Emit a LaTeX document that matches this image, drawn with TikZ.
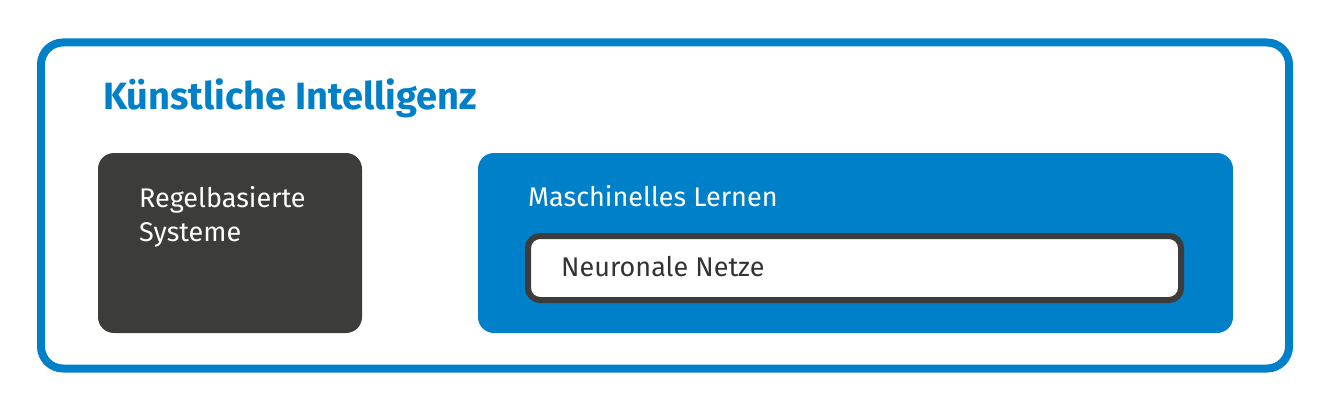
\documentclass[tikz,border=0pt]{standalone}
\usepackage{fontspec}
\setmainfont{Fira Sans}
\usepackage{tikz}

\definecolor{kiblue}{RGB}{0,128,200}
\definecolor{kidark}{RGB}{60,60,59}
\definecolor{kitext}{RGB}{51,51,51}

\tikzset{
	box/.style={rectangle, inner sep=0pt},
	lbl/.style={inner sep=0pt, anchor=base west, font=\fontsize{27}{34}\selectfont}
}

\begin{document}
\begin{tikzpicture}[x=1pt,y=1pt]
	\useasboundingbox[fill=white] (0,0) rectangle (1330,408);
	
	\node[box,draw=kiblue,line width=8pt,rounded corners=22pt,minimum width=1248pt,minimum height=326pt] (ki) at (665,202.5) {};
	\node[box,fill=kidark,rounded corners=16pt,minimum width=264pt,minimum height=180pt] (regel) at (230,165) {};
	\node[box,fill=kiblue,rounded corners=16pt,minimum width=755pt,minimum height=180pt] (ml) at (855.5,165) {};
	\node[box,fill=white,draw=kidark,line width=6pt,rounded corners=12pt,minimum width=653pt,minimum height=64pt] (nn) at (854.5,140) {};
	
	\node[inner sep=0pt,anchor=base west,kiblue,font=\fontsize{38}{44}\selectfont\bfseries] (kitxt) at (103,299) {Künstliche Intelligenz};
	\node[lbl,white] (regeltxt) at (139,201) {Regelbasierte};
	\node[lbl,white] (systxt) at (139,167) {Systeme};
	\node[lbl,white] (mltxt) at (528,202) {Maschinelles Lernen};
	\node[lbl,kitext] (nntxt) at (561,132) {Neuronale Netze};
\end{tikzpicture}
\end{document}
